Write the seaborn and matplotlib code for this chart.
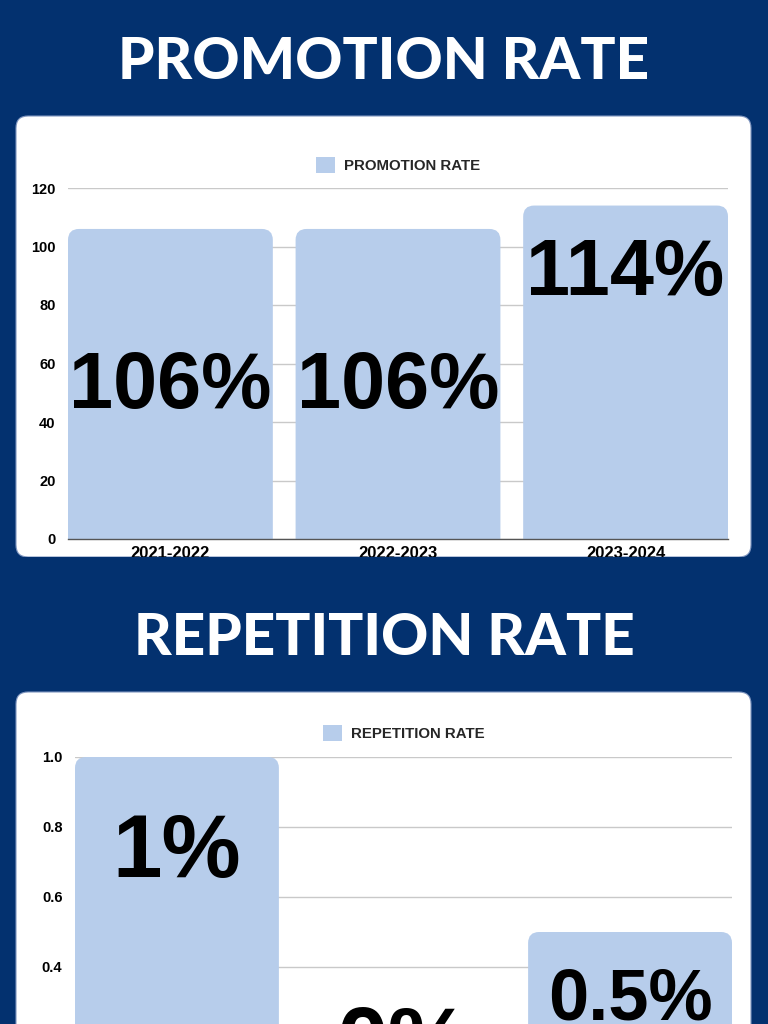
"""Promotion / repetition rate infographic, two stacked bar panels."""
import matplotlib

matplotlib.use("Agg")
import matplotlib.pyplot as plt
from matplotlib.patches import FancyBboxPatch, Patch, Rectangle
import seaborn as sns

# data
years = ["2021-2022", "2022-2023", "2023-2024"]
promotion_rate = [106, 106, 114]
repetition_rate = [1.0, 0.0, 0.5]
promo_ticks = [0, 20, 40, 60, 80, 100, 120]
rep_ticks = [0.0, 0.2, 0.4, 0.6, 0.8, 1.0]

# where the big value labels sit (baseline, in data units) and how big they are
promo_label_y = [44.8, 44.8, 83.4]
promo_label_size = [57, 57, 57]
rep_label_y = [0.657, 0.10, 0.249]
rep_label_size = [64, 67, 52]

NAVY = "#03316f"
BAR = "#b7cdeb"
GRID = "#c9c9c9"
W, H = 768, 1024

sns.set_theme(style="white")
plt.rcParams["font.family"] = ["Liberation Sans", "DejaVu Sans"]

fig = plt.figure(figsize=(W / 100, H / 100), dpi=100, facecolor=NAVY)


def px_axes(left, top, right, bottom):
    return fig.add_axes([left / W, 1 - bottom / H, (right - left) / W, (bottom - top) / H])


def white_panel(left, top, right, bottom, rounding):
    panel = FancyBboxPatch(
        (left / 100, (H - bottom) / 100), (right - left) / 100, (bottom - top) / 100,
        boxstyle=f"round,pad=0,rounding_size={rounding}", transform=fig.dpi_scale_trans,
        facecolor="white", edgecolor="#7f95bf", linewidth=0.8, zorder=-2,
    )
    fig.add_artist(panel)


def round_bars(ax, radius_px=11):
    bbox = ax.get_window_extent()
    x0, x1 = ax.get_xlim()
    y0, y1 = ax.get_ylim()
    xdpp = (x1 - x0) / bbox.width
    ydpp = (y1 - y0) / bbox.height
    for bar in list(ax.patches):
        x, w, h = bar.get_x(), bar.get_width(), bar.get_height()
        bar.remove()
        if h <= 0:
            continue
        ext = radius_px * ydpp * 1.5
        ax.add_patch(FancyBboxPatch(
            (x, -ext), w, h + ext,
            boxstyle=f"round,pad=0,rounding_size={radius_px * xdpp}",
            mutation_aspect=ydpp / xdpp, facecolor=BAR, edgecolor="none", zorder=2,
        ))


def bar_panel(ax, values, ticks, tick_fmt, legend_label, label_y, label_size, legend_gap):
    sns.barplot(x=years, y=values, color=BAR, saturation=1, width=0.9, ax=ax, zorder=2)
    ax.set_xlim(-0.45, 2.45)
    ax.set_ylim(ticks[0], ticks[-1])
    ax.set_yticks(ticks, [tick_fmt.format(t) for t in ticks])
    ax.set_facecolor("none")
    ax.yaxis.grid(True, color=GRID, linewidth=1)
    ax.set_axisbelow(True)
    for side in ["top", "left", "right"]:
        ax.spines[side].set_visible(False)
    ax.spines["bottom"].set_color("#555555")
    ax.spines["bottom"].set_linewidth(1)
    ax.tick_params(axis="y", length=0, pad=9, labelsize=10.5)
    ax.tick_params(axis="x", length=0, pad=5, labelsize=12)
    for lab in ax.get_xticklabels() + ax.get_yticklabels():
        lab.set_fontweight("bold")
        lab.set_color("black")
    round_bars(ax)
    for i, v in enumerate(values):
        ax.text(i, label_y[i], f"{v:g}%", ha="center", va="baseline",
                fontsize=label_size[i], fontweight="bold", color="black", zorder=5)
    ax.legend(handles=[Patch(facecolor=BAR, edgecolor="none")], labels=[legend_label],
              loc="center", bbox_to_anchor=(0.5, 1 + legend_gap), frameon=False,
              handlelength=1.25, handleheight=1.25, handletextpad=0.6,
              prop={"weight": "bold", "size": 10.8})


# promotion panel
fig.text(0.5, 1 - 79 / H, "PROMOTION RATE", ha="center", va="baseline", color="white",
         fontsize=42, fontweight="black", family=["Lato", "DejaVu Sans"])
white_panel(16, 116, 751, 557, 0.12)
ax1 = px_axes(68, 188, 728, 539)
bar_panel(ax1, promotion_rate, promo_ticks, "{:g}", "PROMOTION RATE",
          promo_label_y, promo_label_size, 23 / 351)
# navy strip hides the lower half of the year labels, as in the original
fig.add_artist(Rectangle((0, 1 - 596 / H), 1, 39 / H, transform=fig.transFigure,
                         facecolor=NAVY, edgecolor="none", zorder=5))

# repetition panel
fig.text(0.5, 1 - 655 / H, "REPETITION RATE", ha="center", va="baseline", color="white",
         fontsize=42, fontweight="black", family=["Lato", "DejaVu Sans"])
white_panel(16, 692, 751, 1200, 0.12)
ax2 = px_axes(75, 757, 732, 1107)
bar_panel(ax2, repetition_rate, rep_ticks, "{:.1f}", "REPETITION RATE",
          rep_label_y, rep_label_size, 24 / 350)

fig.savefig("out.png", dpi=100, facecolor=NAVY)
